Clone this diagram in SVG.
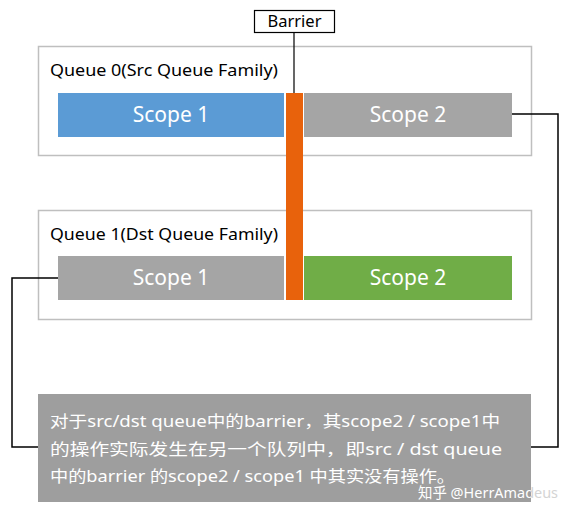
<svg xmlns="http://www.w3.org/2000/svg" width="572" height="517" viewBox="0 0 572 517">
<style>
.q{fill:#ffffff;stroke:#bfbfbf;stroke-width:1.5}
.lbl{font-family:"Noto Sans","Noto Sans CJK SC",sans-serif;font-size:15.5px;fill:#000000}
.sc{font-family:"Noto Sans","Noto Sans CJK SC",sans-serif;font-size:21px;fill:#ffffff;text-anchor:middle}
.note{font-family:"Noto Sans","Noto Sans CJK SC",sans-serif;font-size:16px;fill:#ffffff}
.wm{font-family:"Noto Sans","Noto Sans CJK SC",sans-serif;font-size:15px}
.conn{fill:none;stroke:#000000;stroke-width:1.5}
</style>
<defs>
<clipPath id="inBox"><rect x="38" y="394" width="493" height="108"/></clipPath>
<clipPath id="outBox"><rect x="531" y="394" width="41" height="123"/></clipPath>
</defs>
<rect width="572" height="517" fill="#ffffff"/>
<g id="queue0">
<rect class="q" x="38.5" y="46.5" width="493" height="109"/>
<text class="lbl" x="50" y="76" textLength="228" lengthAdjust="spacingAndGlyphs">Queue 0(Src Queue Family)</text>
</g>
<g id="queue1">
<rect class="q" x="38.5" y="210.5" width="493" height="109"/>
<text class="lbl" x="50" y="240" textLength="228" lengthAdjust="spacingAndGlyphs">Queue 1(Dst Queue Family)</text>
</g>
<g id="q0-scope1">
<rect x="58" y="93" width="226" height="44" fill="#5b9bd5"/>
<text class="sc" x="171" y="122">Scope 1</text>
</g>
<g id="q0-scope2">
<rect x="304" y="93" width="208" height="44" fill="#a5a5a5"/>
<text class="sc" x="408" y="122">Scope 2</text>
</g>
<g id="q1-scope1">
<rect x="58" y="256" width="226" height="44" fill="#a5a5a5"/>
<text class="sc" x="171" y="285">Scope 1</text>
</g>
<g id="q1-scope2">
<rect x="304" y="256" width="208" height="44" fill="#70ad47"/>
<text class="sc" x="408" y="285">Scope 2</text>
</g>
<g id="barrier">
<rect x="286" y="93" width="17" height="207" fill="#e8620c"/>
</g>
<g id="barrier-label">
<rect x="254.5" y="10.5" width="80" height="22" fill="#ffffff" stroke="#000000" stroke-width="1.2"/>
<text class="lbl" x="294.5" y="27" text-anchor="middle" style="font-size:16.5px">Barrier</text>
</g>
<g id="note">
<rect x="38" y="394" width="493" height="108" fill="#9e9e9e"/>
<text class="note" x="50" y="427" textLength="450" lengthAdjust="spacingAndGlyphs">对于src/dst queue中的barrier，其scope2 / scope1中</text>
<text class="note" x="50" y="455" textLength="452" lengthAdjust="spacingAndGlyphs">的操作实际发生在另一个队列中，即src / dst queue</text>
<text class="note" x="50" y="482" textLength="405" lengthAdjust="spacingAndGlyphs">中的barrier 的scope2 / scope1 中其实没有操作。</text>
</g>
<g id="connectors">
<line x1="294" y1="32" x2="294" y2="93" stroke="#000000" stroke-width="1.2"/>
<polyline class="conn" points="512,114 558,114 558,447 531,447"/>
<polyline class="conn" points="58,278 12,278 12,447 38,447"/>
</g>
<g id="watermark">
<text class="wm" x="418" y="498" textLength="140" lengthAdjust="spacingAndGlyphs" fill="#ffffff" clip-path="url(#inBox)">知乎 @HerrAmadeus</text>
<text class="wm" x="418" y="498" textLength="140" lengthAdjust="spacingAndGlyphs" fill="#d4d4d4" clip-path="url(#outBox)">知乎 @HerrAmadeus</text>
</g>
</svg>
